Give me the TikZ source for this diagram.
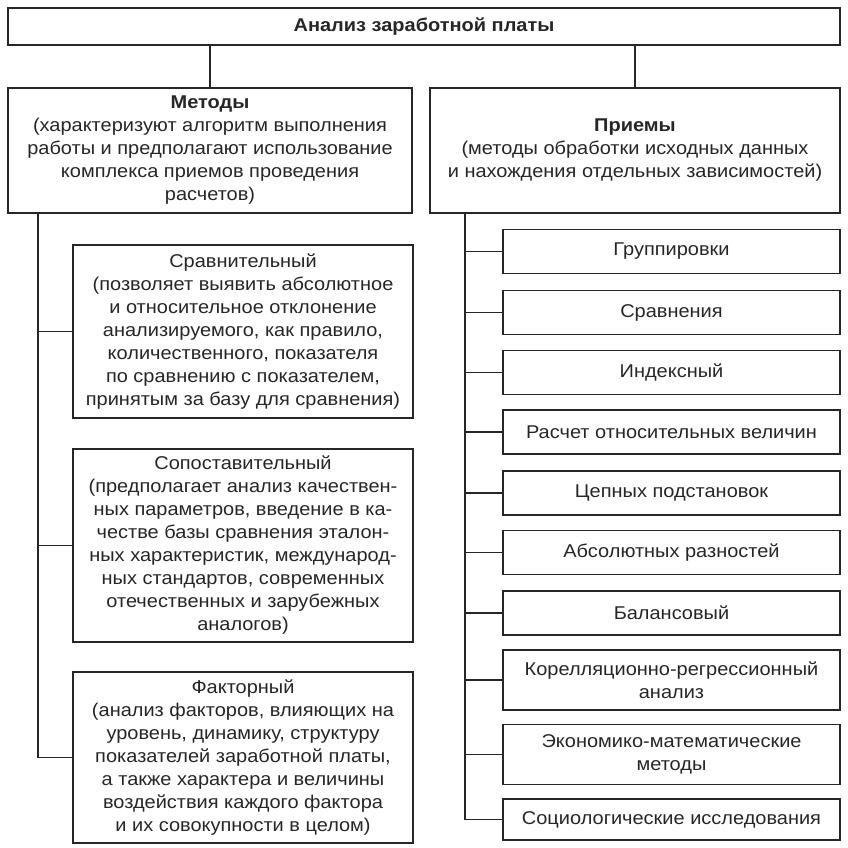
\documentclass[tikz,border=0pt]{standalone}
\usepackage{fontspec}
\setmainfont[FakeStretch=1.08]{Liberation Sans}
\begin{document}
\begin{tikzpicture}[x=1pt,y=-1pt,
  box/.style={draw=black!85, line width=1.8pt, align=center, inner sep=0pt,
    font=\fontsize{18.5}{23}\selectfont, text=black!85},
  wide/.style={box, minimum width=337pt},
  one/.style={wide, minimum height=44pt},
  two/.style={wide, minimum height=60pt},
  link/.style={draw=black!85, line width=1.4pt}]
\useasboundingbox (0,0) rectangle (848,848);
\node[box, minimum width=832pt, minimum height=37pt, font=\bfseries\fontsize{18.5}{20}\selectfont] (top) at (424,26.5) {Анализ заработной платы};
\node[box, minimum width=404pt, minimum height=125pt] (metody) at (210,150.5)
  {\textbf{Методы}\\(характеризуют алгоритм выполнения\\работы и предполагают использование\\комплекса приемов проведения\\расчетов)};
\node[box, minimum width=410pt, minimum height=125pt] (priemy) at (635,150.5)
  {\textbf{Приемы}\\(методы обработки исходных данных\\и нахождения отдельных зависимостей)};
\node[box, minimum width=340pt, minimum height=173pt] (srav) at (243,331.5)
  {Сравнительный\\(позволяет выявить абсолютное\\и относительное отклонение\\анализируемого, как правило,\\количественного, показателя\\по сравнению с показателем,\\принятым за базу для сравнения)};
\node[box, minimum width=340pt, minimum height=193pt] (sopost) at (243,545.5)
  {Сопоставительный\\(предполагает анализ качествен-\\ных параметров, введение в ка-\\честве базы сравнения эталон-\\ных характеристик, международ-\\ных стандартов, современных\\отечественных и зарубежных\\аналогов)};
\node[box, minimum width=340pt, minimum height=171pt] (faktor) at (243,757.5)
  {Факторный\\(анализ факторов, влияющих на\\уровень, динамику, структуру\\показателей заработной платы,\\а также характера и величины\\воздействия каждого фактора\\и их совокупности в целом)};
\node[one] (grup) at (671.5,251.5) {Группировки};
\node[one] (sravn) at (671.5,312.5) {Сравнения};
\node[one] (index) at (671.5,372.5) {Индексный};
\node[one] (rasch) at (671.5,432) {Расчет относительных величин};
\node[one] (cepn) at (671.5,493) {Цепных подстановок};
\node[one] (absol) at (671.5,552.5) {Абсолютных разностей};
\node[one] (balans) at (671.5,613) {Балансовый};
\node[two] (korel) at (671.5,680) {Корелляционно-регрессионный\\анализ};
\node[two] (ekon) at (671.5,754.5) {Экономико-математические\\методы};
\node[one, minimum height=41pt] (soc) at (671.5,819.5) {Социологические исследования};
\coordinate (ls) at (38,0);
\coordinate (rs) at (465,0);
\draw[link] (metody.north) -- (metody.north |- top.south);
\draw[link] (priemy.north) -- (priemy.north |- top.south);
\draw[link] (ls |- metody.south) |- (faktor.west);
\draw[link] (ls |- srav.west) -- (srav.west);
\draw[link] (ls |- sopost.west) -- (sopost.west);
\draw[link] (rs |- priemy.south) |- (soc.west);
\foreach \n in {grup,sravn,index,rasch,cepn,absol,balans,korel,ekon}
  \draw[link] (rs |- \n.west) -- (\n.west);
\end{tikzpicture}
\end{document}
